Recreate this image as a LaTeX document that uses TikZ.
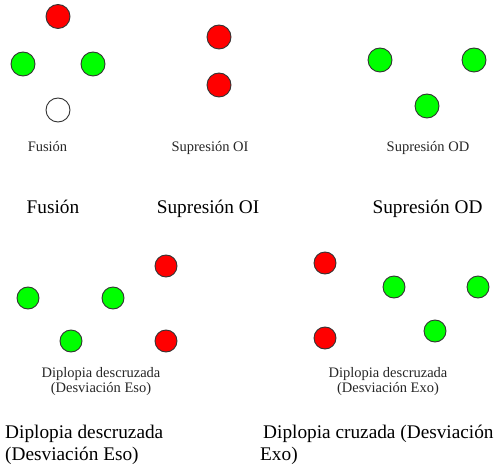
\documentclass[tikz,border=0pt]{standalone}
\usepackage{fontspec}
\setmainfont{Liberation Serif}

\tikzset{
	dot/.style={circle, draw=black!80, line width=0.9pt, minimum size=24pt, inner sep=0pt},
	reddot/.style={dot, fill=red},
	greendot/.style={dot, fill=green},
	emptydot/.style={dot, fill=white},
	smalldot/.style={minimum size=22pt},
	smalllabel/.style={inner sep=0pt, text=black!85, font=\fontsize{14.5}{15}\selectfont},
	biglabel/.style={inner sep=0pt, font=\fontsize{19.3}{22.5}\selectfont}
}

\begin{document}
\begin{tikzpicture}[x=1pt, y=-1pt]
		\useasboundingbox (0,0) rectangle (502,470);
		
		% fusion
		\node[reddot] (fusRed) at (58,16.5) {};
		\node[greendot] (fusGreenL) at (23,64) {};
		\node[greendot] (fusGreenR) at (93,64) {};
		\node[emptydot] (fusEmpty) at (58,110) {};
		\node[smalllabel, anchor=base] (fusSmall) at (47.5,152) {Fusión};
		\node[biglabel, anchor=base] (fusBig) at (53,213) {Fusión};
		
		% supresion OI
		\foreach \n/\y in {supRedA/37, supRedB/85}
		\node[reddot] (\n) at (219,\y) {};
		\node[smalllabel, anchor=base] (oiSmall) at (210,152) {Supresión OI};
		\node[biglabel, anchor=base] (oiBig) at (208,213) {Supresión OI};
		
		% supresion OD
		\foreach \n/\x/\y in {odGreenL/380/60, odGreenR/474/60, odGreenB/427/106}
		\node[greendot] (\n) at (\x,\y) {};
		\node[smalllabel, anchor=base] (odSmall) at (428,152) {Supresión OD};
		\node[biglabel, anchor=base] (odBig) at (427.5,213) {Supresión OD};
		
		% diplopia descruzada
		\foreach \n/\x/\y in {esoGreenA/28/298, esoGreenB/113/298, esoGreenC/71/341}
		\node[greendot, smalldot] (\n) at (\x,\y) {};
		\foreach \n/\y in {esoRedA/266, esoRedB/341}
		\node[reddot, smalldot] (\n) at (166,\y) {};
		\node[smalllabel, align=center, anchor=north] (esoSmall) at (101,367)
		{Diplopia descruzada\\(Desviación Eso)};
		\node[biglabel, align=left, anchor=north west] (esoBig) at (5,424.5)
		{Diplopia descruzada\\(Desviación Eso)};
		
		% diplopia cruzada
		\foreach \n/\y in {exoRedA/263, exoRedB/338}
		\node[reddot, smalldot] (\n) at (325,\y) {};
		\foreach \n/\x/\y in {exoGreenA/394/287, exoGreenB/478/287, exoGreenC/435/331}
		\node[greendot, smalldot] (\n) at (\x,\y) {};
		\node[smalllabel, align=center, anchor=north] (exoSmall) at (388,367)
		{Diplopia descruzada\\(Desviación Exo)};
		\node[biglabel, align=left, anchor=north west] (exoBig) at (260,424.5)
		{\hspace*{3pt}Diplopia cruzada (Desviación\\Exo)};
		
		\end{tikzpicture}
\end{document}
